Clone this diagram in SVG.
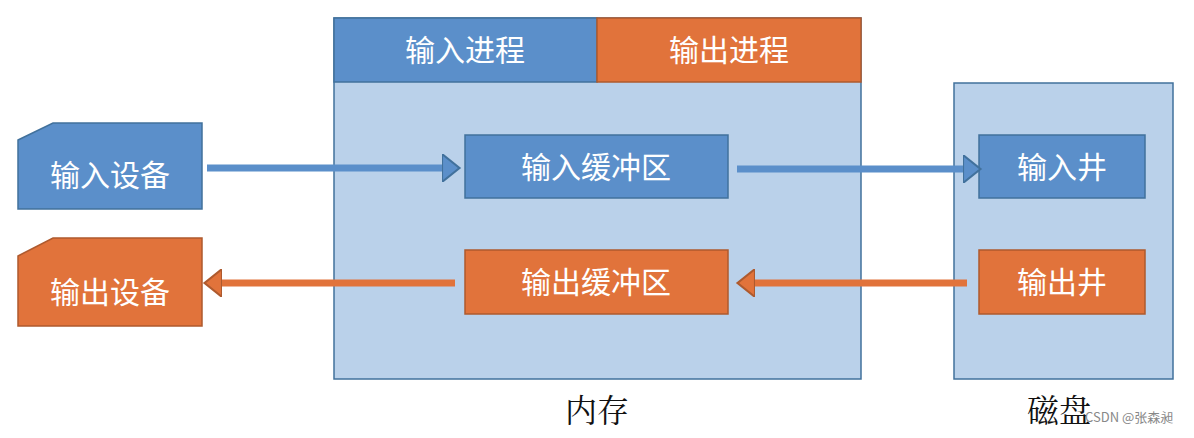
<svg xmlns="http://www.w3.org/2000/svg" width="1194" height="438" viewBox="0 0 1194 438">
<style>
.b{fill:#5b8fca;stroke:#41719c;stroke-width:1.5}
.o{fill:#e1733b;stroke:#ae5a2e;stroke-width:1.5}
.m{fill:#bad1ea;stroke:#41719c;stroke-width:1.5}
.t{font-family:"Noto Sans CJK SC",sans-serif;font-size:30px;fill:#fff;text-anchor:middle;dominant-baseline:central}
.l{font-family:"Noto Serif CJK SC","Noto Sans CJK SC",serif;font-size:32px;fill:#111;text-anchor:middle}
</style>
<defs>
<marker id="ab" markerWidth="4" markerHeight="4" refX="1" refY="2" orient="auto" markerUnits="strokeWidth"><path d="M0,0L2.5,2L0,4z" fill="#5b8fca" stroke="#41719c" stroke-width="0.3"/></marker>
<marker id="ao" markerWidth="4" markerHeight="4" refX="1" refY="2" orient="auto" markerUnits="strokeWidth"><path d="M0,0L2.5,2L0,4z" fill="#e1733b" stroke="#ae5a2e" stroke-width="0.3"/></marker>
</defs>
<g id="memory"><rect class="m" x="334" y="18" width="527" height="361"/></g>
<g id="disk"><rect class="m" x="954" y="83" width="219" height="296"/></g>
<g id="inproc"><rect class="b" x="334" y="18" width="263" height="64"/><text class="t" x="465" y="48">输入进程</text></g>
<g id="outproc"><rect class="o" x="597" y="18" width="264" height="64"/><text class="t" x="729" y="48">输出进程</text></g>
<g id="indev"><path class="b" d="M18,140L53,123H202V209H18Z"/><text class="t" x="110" y="173">输入设备</text></g>
<g id="outdev"><path class="o" d="M18,256L53,238H202V326H18Z"/><text class="t" x="110" y="290">输出设备</text></g>
<g id="inbuf"><rect class="b" x="465" y="135" width="263" height="63"/><text class="t" x="596" y="165">输入缓冲区</text></g>
<g id="outbuf"><rect class="o" x="465" y="250" width="263" height="64"/><text class="t" x="596" y="280">输出缓冲区</text></g>
<g id="inwell"><rect class="b" x="979" y="135" width="166" height="63"/><text class="t" x="1062" y="165">输入井</text></g>
<g id="outwell"><rect class="o" x="979" y="250" width="166" height="64"/><text class="t" x="1062" y="280">输出井</text></g>
<g id="connectors" stroke-width="7">
<line x1="207" y1="168" x2="449" y2="168" stroke="#5b8fca" marker-end="url(#ab)"/>
<line x1="737" y1="169" x2="970" y2="169" stroke="#5b8fca" marker-end="url(#ab)"/>
<line x1="455" y1="283" x2="215" y2="283" stroke="#e1733b" marker-end="url(#ao)"/>
<line x1="967" y1="283" x2="748" y2="283" stroke="#e1733b" marker-end="url(#ao)"/>
</g>
<text class="l" x="597" y="422">内存</text>
<text class="l" x="1059" y="422">磁盘</text>
<text x="1085" y="422" font-family="'Noto Sans CJK SC',sans-serif" font-size="13" fill="#888">CSDN @张森昶</text>
</svg>
